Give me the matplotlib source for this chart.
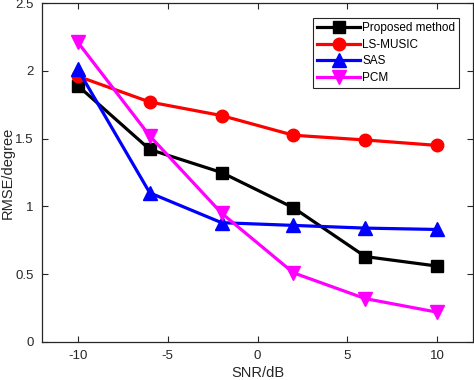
import matplotlib
matplotlib.use("Agg")
import matplotlib.pyplot as plt

snr = [-10, -6, -2, 2, 6, 10]
proposed = [1.89, 1.42, 1.25, 0.99, 0.63, 0.56]
ls_music = [1.96, 1.77, 1.67, 1.525, 1.49, 1.45]
sas = [2.01, 1.10, 0.88, 0.86, 0.84, 0.83]
pcm = [2.21, 1.52, 0.95, 0.51, 0.32, 0.22]
labels = ["Proposed method", "LS-MUSIC", "SAS", "PCM"]

plt.rcParams['font.family'] = ['Liberation Sans', 'DejaVu Sans']
plt.rcParams['axes.unicode_minus'] = False

fig = plt.figure(figsize=(4.74, 3.8), dpi=100)
ax = fig.add_axes([0.0886, 0.1, 0.9094, 0.892])

lw = 2.3
ms = 9
ax.plot(snr, proposed, color='black', marker='s', lw=lw, ms=ms, label=labels[0])
ax.plot(snr, ls_music, color='#ff0000', marker='o', lw=lw, ms=ms, label=labels[1])
ax.plot(snr, sas, color='#0000ff', marker='^', lw=lw, ms=ms+1, label=labels[2])
ax.plot(snr, pcm, color='#ff00ff', marker='v', lw=lw, ms=ms+1, label=labels[3])

ax.set_xlim(-12, 12)
ax.set_ylim(0, 2.5)
ax.set_xticks([-10, -5, 0, 5, 10])
ax.set_yticks([0, 0.5, 1, 1.5, 2, 2.5])
ax.set_yticklabels(['0', '0.5', '1', '1.5', '2', '2.5'])
ax.tick_params(direction='in', top=True, right=True, labelsize=9.5,
               colors='#262626', length=4, width=0.8, pad=6)
for s in ax.spines.values():
    s.set_color('#262626')
    s.set_linewidth(0.9)
ax.set_xlabel('SNR/dB', fontsize=10.5, color='#262626')
ax.set_ylabel('RMSE/degree', fontsize=10.5, color='#262626')
ax.xaxis.set_label_coords(0.5, -0.07)
ax.yaxis.set_label_coords(-0.064, 0.5)

leg = ax.legend(loc='upper right', bbox_to_anchor=(0.968, 0.955), fontsize=8.5,
                handlelength=3.6, handletextpad=0.2, borderpad=0.35,
                labelspacing=0.38, fancybox=False, framealpha=1,
                edgecolor='#262626', borderaxespad=0)
leg.get_frame().set_linewidth(0.8)

fig.savefig('out.png', dpi=100)
